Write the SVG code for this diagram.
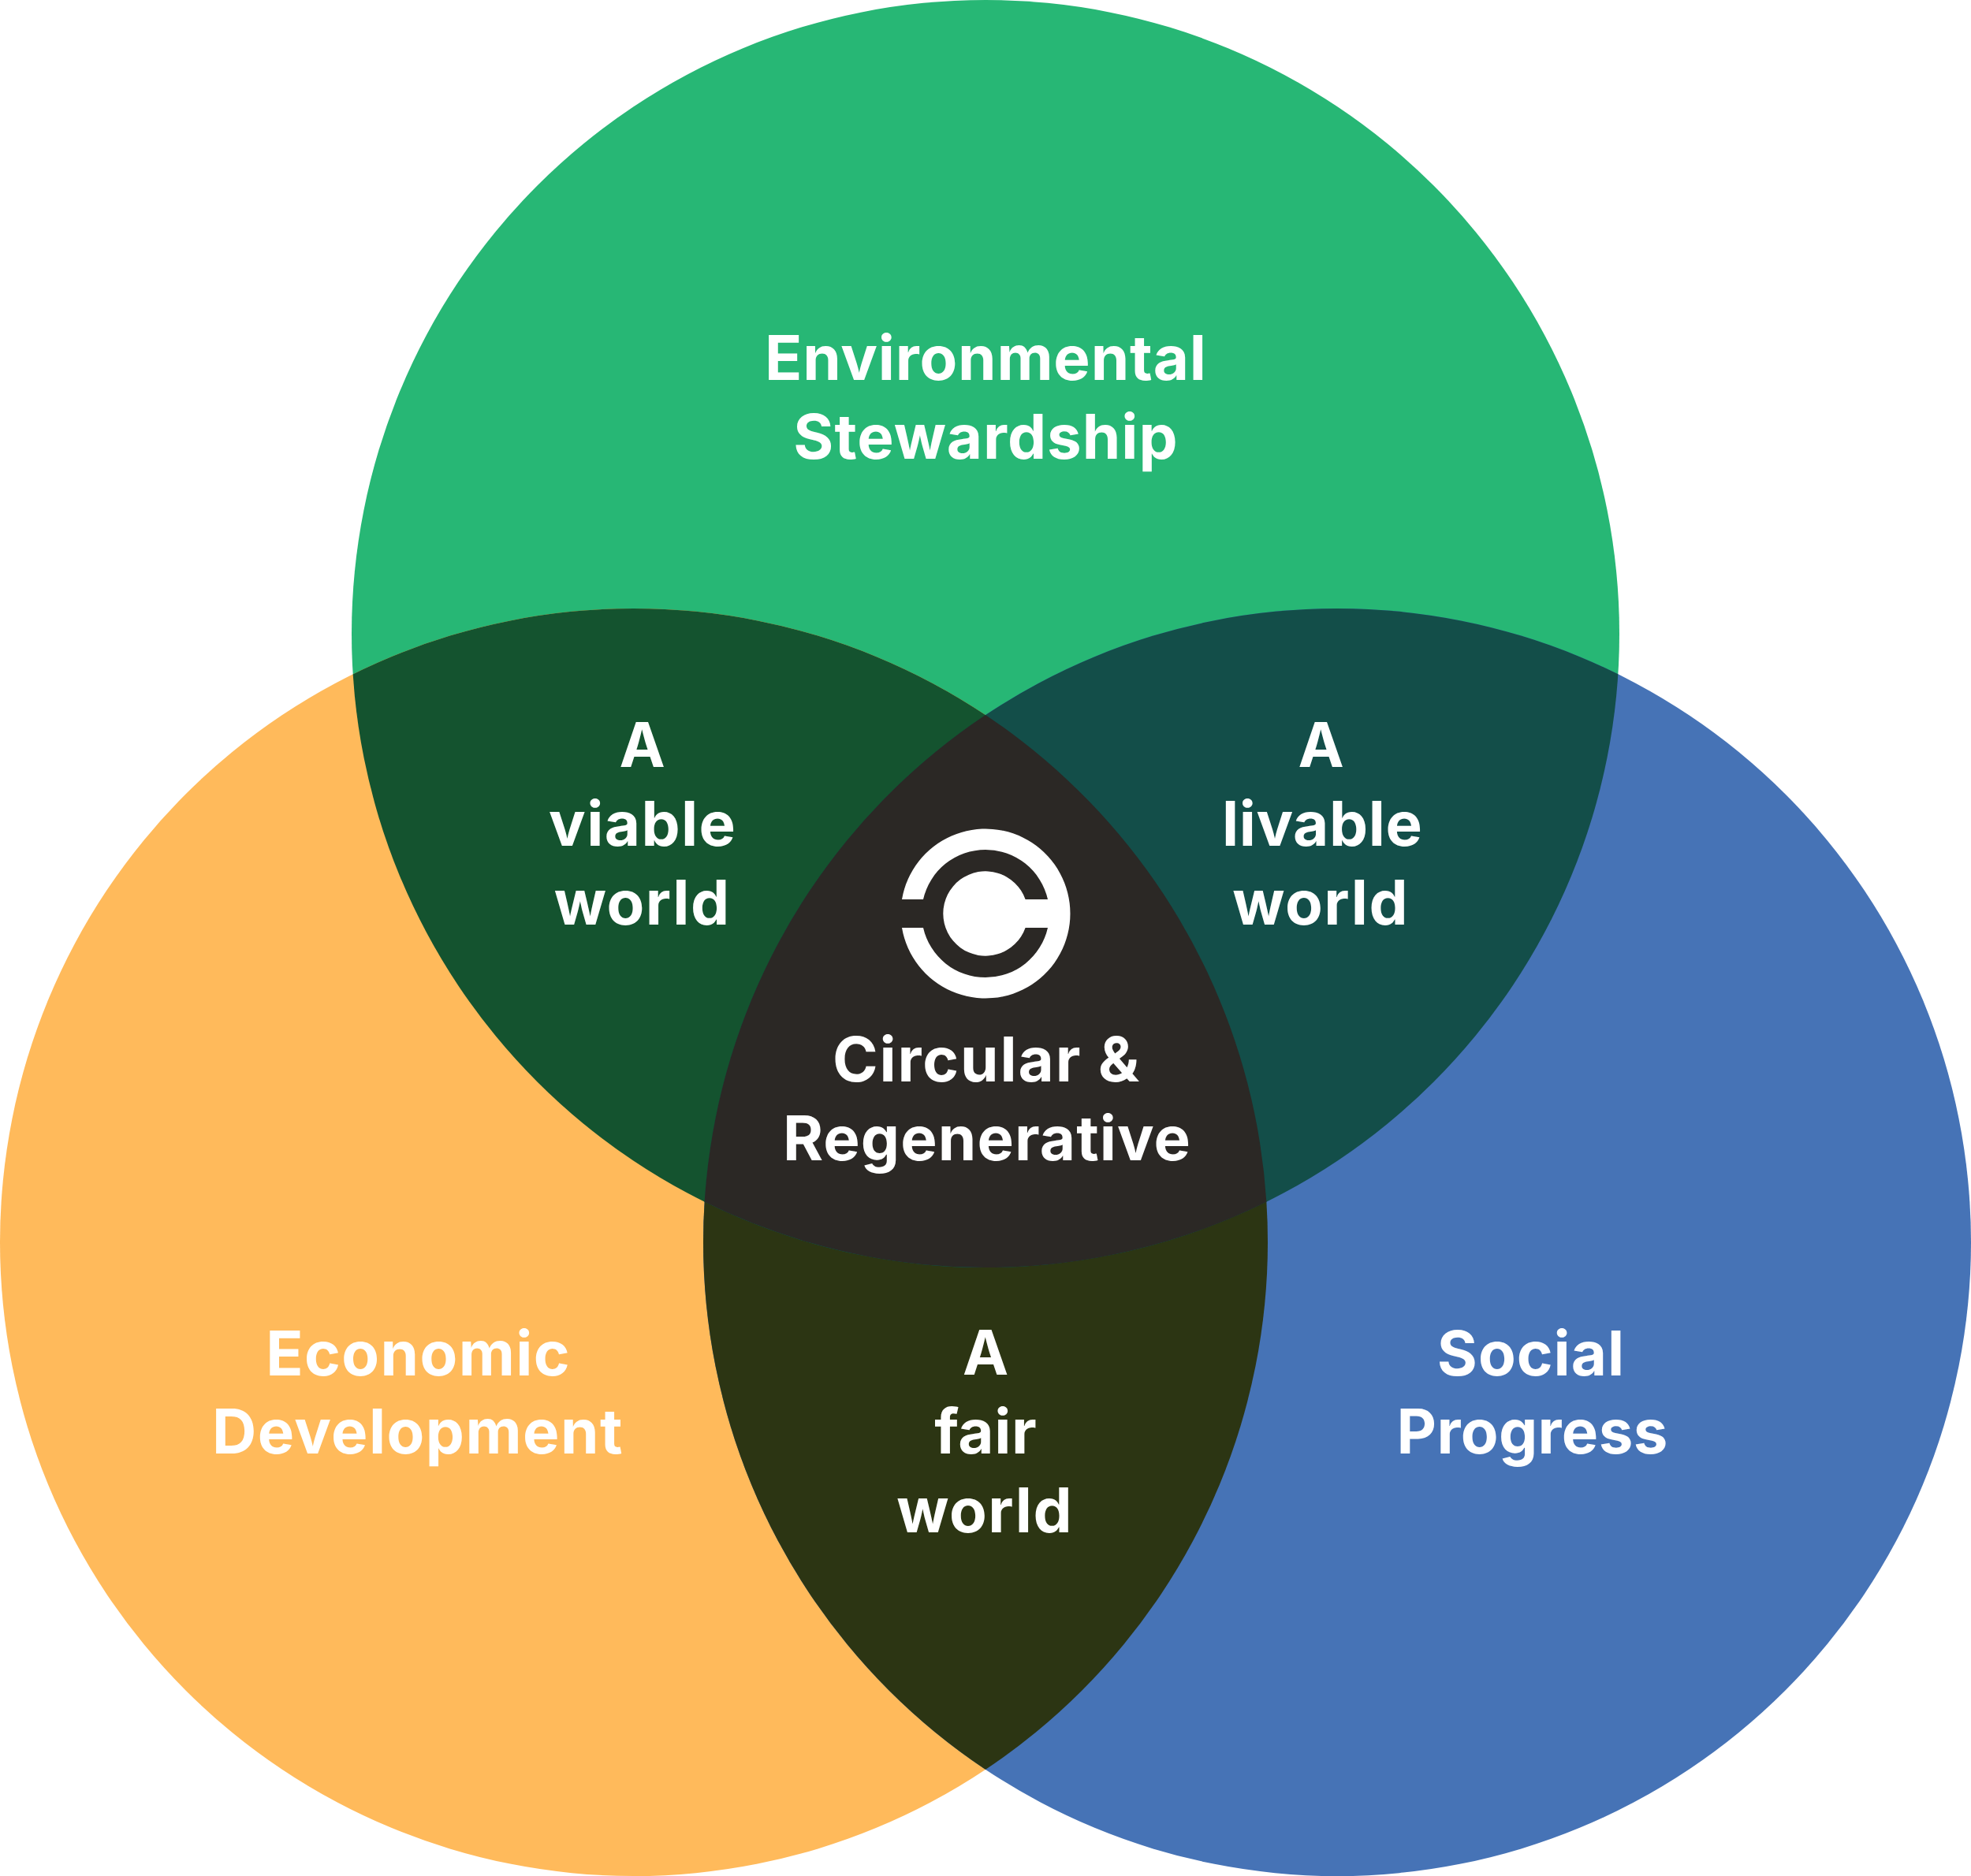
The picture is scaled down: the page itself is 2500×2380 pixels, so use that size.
<svg xmlns="http://www.w3.org/2000/svg" width="2500" height="2380" viewBox="0 0 2500 2380">
<defs>
<style>
.t{font-family:"Inter","Liberation Sans",sans-serif;font-weight:700;font-size:78px;fill:#fff;text-anchor:middle}
</style>
<clipPath id="cO"><circle cx="804" cy="1576" r="804"/></clipPath>
<clipPath id="cB"><circle cx="1696" cy="1576" r="804"/></clipPath>
<clipPath id="cG"><circle cx="1250" cy="804" r="804"/></clipPath>
<clipPath id="cGO" clip-path="url(#cG)"><circle cx="804" cy="1576" r="804"/></clipPath>
</defs>
<rect width="2500" height="2380" fill="#fff"/>
<g id="circles">
<circle id="green" cx="1250" cy="804" r="804" fill="#27b775"/>
<circle id="orange" cx="804" cy="1576" r="804" fill="#ffba5b"/>
<circle id="blue" cx="1696" cy="1576" r="804" fill="#4673b6"/>
<circle id="orange-blue" cx="804" cy="1576" r="804" fill="#2c3513" clip-path="url(#cB)"/>
<circle id="green-orange" cx="1250" cy="804" r="804" fill="#14532f" clip-path="url(#cO)"/>
<circle id="green-blue" cx="1250" cy="804" r="804" fill="#134e49" clip-path="url(#cB)"/>
<circle id="center" cx="1696" cy="1576" r="804" fill="#2b2825" clip-path="url(#cGO)"/>
</g>
<g id="logo"><path fill="#fff" d="M1144,1141A107.5,107.5 0 1 1 1144,1177L1171,1177A81,81 0 0 0 1329,1177L1300.6,1177A53.7,53.7 0 1 1 1300.6,1141L1329,1141A81,81 0 0 0 1171,1141Z"/></g>
<g id="environmental"><text class="t" x="1250.4" y="482" letter-spacing="0.8">Environmental</text><text class="t" x="1250.5" y="582" letter-spacing="1">Stewardship</text></g>
<g id="viable"><text class="t" x="814.5" y="973">A</text><text class="t" x="815.2" y="1073" letter-spacing="1.4">viable</text><text class="t" x="814.7" y="1173" letter-spacing="1.5">world</text></g>
<g id="livable"><text class="t" x="1675.5" y="973">A</text><text class="t" x="1677.3" y="1073" letter-spacing="0.6">livable</text><text class="t" x="1675.2" y="1173" letter-spacing="1.5">world</text></g>
<g id="circular"><text class="t" x="1251.5" y="1372" letter-spacing="1.9">Circular &amp;</text><text class="t" x="1252" y="1472" letter-spacing="1.1">Regenerative</text></g>
<g id="economic"><text class="t" x="530.7" y="1745" letter-spacing="1.4">Economic</text><text class="t" x="530" y="1844" letter-spacing="1.45">Development</text></g>
<g id="fair"><text class="t" x="1250" y="1744">A</text><text class="t" x="1250.3" y="1844" letter-spacing="0.6">fair</text><text class="t" x="1249.2" y="1944" letter-spacing="1.5">world</text></g>
<g id="social"><text class="t" x="1942" y="1745" letter-spacing="1">Social</text><text class="t" x="1943.7" y="1844" letter-spacing="0.4">Progress</text></g>
</svg>
